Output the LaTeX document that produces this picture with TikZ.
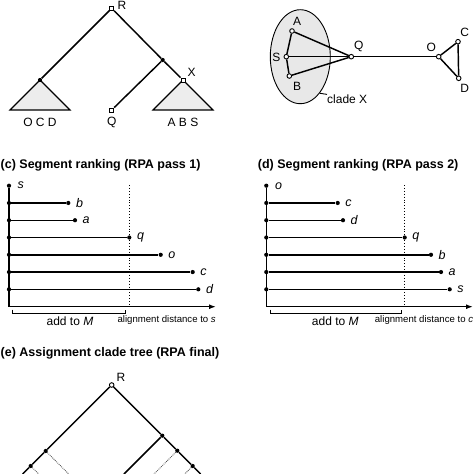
\documentclass[tikz,border=0pt]{standalone}
\usepackage{fontspec}
\setmainfont{Liberation Sans}
\usetikzlibrary{arrows.meta,shapes.geometric}
\tikzset{
  osq/.style={draw, fill=white, rectangle, inner sep=0pt, minimum size=4pt, line width=0.9pt},
  ocirc/.style={draw, fill=white, circle, inner sep=0pt, minimum size=4.6pt, line width=0.9pt},
  fdot/.style={fill, circle, inner sep=0pt, minimum size=4.2pt},
  lbl/.style={inner sep=0pt, font=\fontsize{12}{14}\selectfont},
  seglbl/.style={anchor=west, inner sep=0pt, font=\fontsize{12.5}{14}\selectfont\itshape},
  smalllbl/.style={inner sep=0pt, font=\fontsize{9.6}{11}\selectfont},
  ttl/.style={anchor=west, inner sep=0pt, font=\fontsize{12.5}{14}\selectfont\bfseries},
  edge/.style={line width=1.45pt},
  faint/.style={black!70, line width=0.8pt, densely dotted},
}
\begin{document}
\begin{tikzpicture}[x=1pt,y=-1pt]
  \useasboundingbox (0,0) rectangle (474,474);

  % (a) clade tree
  \draw[line width=1.2pt, fill=black!7] (40,80) -- (10,110) -- (70,110) -- cycle;
  \draw[line width=1.2pt, fill=black!7] (183,80) -- (153,110) -- (213,110) -- cycle;
  \node[osq] (aR) at (111.7,8.3) {};
  \node[fdot] (aL) at (40,80) {};
  \node[fdot] (aI) at (162.7,60) {};
  \node[osq] (aX) at (183,80) {};
  \node[osq] (aQ) at (111.7,110) {};
  \draw[edge] (aR) -- (aL);
  \draw[edge] (aR) -- (aI) -- (aX);
  \draw[edge] (aI) -- (aQ);
  \node[lbl] (aRlab) at (122,5) {R};
  \node[lbl] (aXlab) at (191.5,72) {X};
  \node[lbl] (aOCD) at (40,122) {O C D};
  \node[lbl] (aQlab) at (111.7,122) {Q};
  \node[lbl] (aABS) at (183,122) {A B S};

  % (b) distance graph
  \node[ellipse, draw, fill=black!9, line width=0.9pt, inner sep=0pt,
    minimum width=60pt, minimum height=94pt] (bX) at (300.3,56.7) {};
  \node[ocirc] (bA) at (292,31) {};
  \node[ocirc] (bS) at (286.3,56.7) {};
  \node[ocirc] (bB) at (289.3,76) {};
  \node[ocirc] (bQ) at (351.3,56.7) {};
  \node[ocirc] (bO) at (438.7,56.7) {};
  \node[ocirc] (bC) at (458,41.7) {};
  \node[ocirc] (bD) at (458.7,78.3) {};
  \draw[edge] (bA) -- (bS) -- (bB);
  \draw[edge] (bA) -- (bQ);
  \draw[edge] (bS) -- (bQ);
  \draw[edge] (bB) -- (bQ);
  \draw[edge] (bQ) -- (bO);
  \draw[edge] (bO) -- (bC) -- (bD) -- (bO);
  \node[lbl] at (297,21.7) {A};
  \node[lbl] at (276.3,57.3) {S};
  \node[lbl] at (297,86) {B};
  \node[lbl] at (358.7,46.7) {Q};
  \node[lbl] at (431.3,47.7) {O};
  \node[lbl] at (464.7,32.3) {C};
  \node[lbl] at (464.7,88.3) {D};
  \node[lbl, anchor=west] (bXlab) at (327,99) {clade X};
  \draw[line width=0.9pt] (bX.-62) -- (bXlab.north west);

  % (c) segment ranking, pass 1
  \node[ttl] at (0.5,165) {(c) Segment ranking (RPA pass 1)};
  \node[fdot] (cS) at (9,185.7) {};
  \node[seglbl] at (17.5,185.7) {s};
  \foreach \lab/\xe [count=\i] in {b/68.3, a/75, q/129.3, o/160.7, c/192.7, d/198.3} {
    \node[fdot] (cL\i) at (9,185.7+17.27*\i) {};
    \node[fdot] (cR\i) at (\xe,185.7+17.27*\i) {};
    \draw[edge] (cL\i) -- (cR\i);
    \node[seglbl] at ([xshift=7.5pt]cR\i.center) {\lab};
  }
  \coordinate (cO) at (9,306.7);
  \coordinate (cE) at (216,306.7);
  \draw[edge, -{Latex[length=7pt,width=5pt]}] (cS) -- (cO) -- (cE);
  \draw[dotted, line width=0.9pt] (129.3,185) -- (129.3,306.7);
  \draw[line width=0.9pt] (12.7,309.5) -- (12.7,313.3) -- (125,313.3) -- (125,309.5);
  \node[lbl] at (70,321.5) {add to \textit{M}};
  \node[smalllbl] at (166.7,320) {alignment distance to \textit{s}};

  % (d) segment ranking, pass 2
  \node[ttl] at (257.7,165) {(d) Segment ranking (RPA pass 2)};
  \node[fdot] (dO) at (266.3,185.7) {};
  \node[seglbl] at (274.8,185.7) {o};
  \foreach \lab/\xe [count=\i] in {c/337.7, d/343, q/404.7, b/431, a/441, s/449.7} {
    \node[fdot] (dL\i) at (266.3,185.7+17.27*\i) {};
    \node[fdot] (dR\i) at (\xe,185.7+17.27*\i) {};
    \draw[edge] (dL\i) -- (dR\i);
    \node[seglbl] at ([xshift=7.5pt]dR\i.center) {\lab};
  }
  \coordinate (dOr) at (266.3,306.7);
  \coordinate (dE) at (473,306.7);
  \draw[edge, -{Latex[length=7pt,width=5pt]}] (dO) -- (dOr) -- (dE);
  \draw[dotted, line width=0.9pt] (404.7,185) -- (404.7,306.7);
  \draw[line width=0.9pt] (270.3,309.5) -- (270.3,313.3) -- (401,313.3) -- (401,309.5);
  \node[lbl] at (335.3,321.5) {add to \textit{M}};
  \node[smalllbl, anchor=west] at (374.7,320) {alignment distance to \textit{c}};

  % (e) assignment clade tree
  \node[ttl] at (0.5,353.3) {(e) Assignment clade tree (RPA final)};
  \node[ocirc] (eR) at (111.7,385) {};
  \node[lbl] at (121,377.3) {R};
  \node[fdot] (e1) at (45.7,451) {};
  \node[fdot] (e2) at (30.7,466) {};
  \node[fdot] (e3) at (162.3,435.7) {};
  \node[fdot] (e4) at (177.3,450.7) {};
  \node[fdot] (e5) at (192.7,466) {};
  \coordinate (e2b) at (22.7,474);
  \coordinate (e3b) at (124,474);
  \coordinate (e5b) at (200.7,474);
  \draw[edge] (eR) -- (e1) -- (e2) -- (e2b);
  \draw[edge] (eR) -- (e3) -- (e4) -- (e5) -- (e5b);
  \draw[edge] (e3) -- (e3b);
  \coordinate (e1b) at (68.7,474);
  \coordinate (e2c) at (38.7,474);
  \coordinate (e4b) at (154,474);
  \coordinate (e5c) at (184.7,474);
  \draw[faint] (e1) -- (e1b);
  \draw[faint] (e2) -- (e2c);
  \draw[faint] (e4) -- (e4b);
  \draw[faint] (e5) -- (e5c);
\end{tikzpicture}
\end{document}
